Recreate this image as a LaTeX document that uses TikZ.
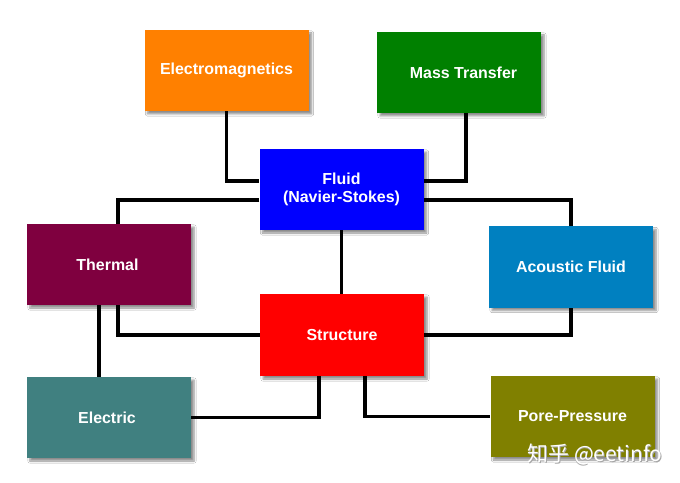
\documentclass[tikz,border=0pt]{standalone}
\usepackage{fontspec}
\setmainfont{Liberation Sans}
\newfontfamily\cjk{Noto Sans CJK SC}
\usepackage{xcolor}
\usepackage{tikz}
\usetikzlibrary{calc,shadows.blur,backgrounds}
\definecolor{emag}{HTML}{FF8000}
\definecolor{mass}{HTML}{008000}
\definecolor{fluid}{HTML}{0000FF}
\definecolor{therm}{HTML}{7F003F}
\definecolor{acou}{HTML}{0080C0}
\definecolor{struc}{HTML}{FF0000}
\definecolor{elec}{HTML}{408080}
\definecolor{pore}{HTML}{808000}
\tikzset{
  box/.style={rectangle, inner sep=0pt, minimum width=164bp, minimum height=81bp,
    text=white, font=\fontsize{16}{18}\selectfont\bfseries, align=center,
    blur shadow={shadow xshift=3bp, shadow yshift=-3bp, shadow blur steps=6, shadow opacity=45}},
  link/.style={draw=black, line width=3.3bp, line cap=butt, line join=miter},
  wmark/.style={text=white, font=\cjk\fontsize{21}{23}\selectfont},
}
\begin{document}
\begin{tikzpicture}[x=1bp,y=-1bp]
  \useasboundingbox (0,0) rectangle (680,483);
  \coordinate (em) at (226.5,70.5);
  \coordinate (mt) at (459,72.5);
  \coordinate (fl) at (341.5,189.5);
  \coordinate (th) at (109,264.5);
  \coordinate (ac) at (571,267);
  \coordinate (st) at (342,335);
  \coordinate (el) at (109,417.5);
  \coordinate (pp) at (572.5,416.5);
  \node[box,fill=emag] (emag) at (em) {Electromagnetics};
  \node[box,fill=mass] (mass) at (mt) {\hspace*{9bp}Mass Transfer};
  \node[box,fill=fluid] (fluid) at (fl) {Fluid\\(Navier-Stokes)};
  \node[box,fill=therm] (therm) at (th) {Thermal\hspace*{3bp}};
  \node[box,fill=acou] (acou) at (ac) {Acoustic Fluid};
  \node[box,fill=struc,minimum height=82bp] (struc) at (st) {Structure};
  \node[box,fill=elec] (elec) at (el) {Electric\hspace*{4bp}};
  \node[box,fill=pore] (pore) at (pp) {Pore-Pressure};
  % links under the boxes
  \begin{scope}[on background layer]
    \fill[white] (0,0) rectangle (680,483);
    \draw[link] (emag.south) |- ([yshift=8.5bp]fluid.west);
    \draw[link] ([xshift=7bp]mass.south) |- ([yshift=8.5bp]fluid.east);
    \draw[link] ([yshift=-10.5bp]fluid.west) -| ([xshift=9bp]therm.north);
    \draw[link] ([yshift=-10.5bp]fluid.east) -| (acou.north);
    \draw[link] (fluid.south) -- (fluid.south |- struc.north);
    \draw[link] ([xshift=-10bp]therm.south) -- ([xshift=-10bp]elec.north);
    \draw[link] ([xshift=9bp]therm.south) |- (struc.west);
    \draw[link] (acou.south) |- (struc.east);
    \draw[link] ([xshift=-23bp]struc.south) |- (elec.east);
    \draw[link] ([xshift=23bp]struc.south) |- (pore.west);
  \end{scope}
  % watermark
  \node[wmark,text=gray!70] (wm0) at (595.8,455.8) {知乎 @eetinfo};
  \node[wmark] (wm) at (595,455) {知乎 @eetinfo};
\end{tikzpicture}
\end{document}
